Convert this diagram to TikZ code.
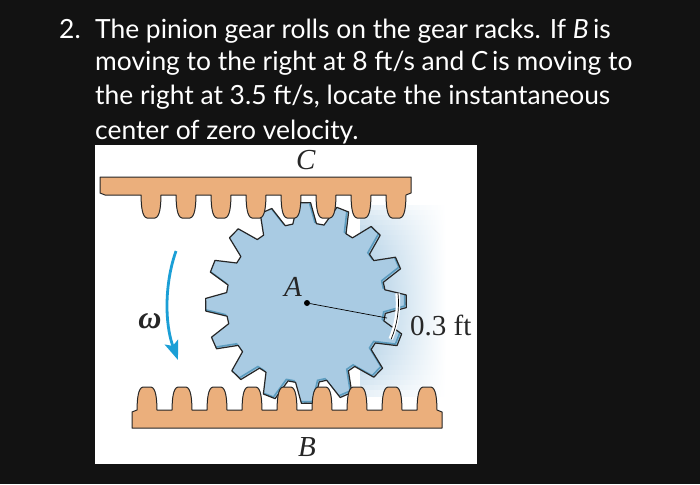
\documentclass[tikz,border=0pt]{standalone}
\usepackage{fontspec}
\setmainfont{Lato}
\newfontfamily\figfont{Liberation Serif}
\usetikzlibrary{positioning, calc, arrows.meta}
\definecolor{pagebg}{HTML}{121212}
\definecolor{gearblue}{HTML}{A9CBE3}
\definecolor{gearedge}{HTML}{5C9CBF}
\definecolor{rackfill}{HTML}{EBAF7C}
\definecolor{omegablue}{HTML}{1B9FD6}
\newcommand{\gearpath}{(-98.5:80) foreach \a in {-90,-67.5,...,247.5} {
    -- (\a-8.5:80) -- (\a-3.6:100.5) -- (\a+3.6:100.5) -- (\a+8.5:80)
} -- cycle}
\tikzset{
    question/.style={text=white, anchor=base west, font=\fontsize{26.4}{32}\selectfont, inner sep=0pt},
    figlabel/.style={font=\figfont\fontsize{29}{32}\selectfont, text=black!85, inner sep=0pt},
    rack/.style={draw=black!85, line width=1pt, fill=rackfill, line join=round}
}
\begin{document}
\begin{tikzpicture}[x=1pt, y=-1pt]
            \path[use as bounding box, fill=pagebg] (0,0) rectangle (700,484);
            \fill[white] (95,145) rectangle (477,464);

            % question text
            \node[question] (num) at (59,39) {2.};
            \node[question] (l1) at (95,39) {The pinion gear rolls on the gear racks. If \textit{B}\,is};
            \node[question] (l2) at (95,71) {moving to the right at 8 ft/s and \textit{C}\,is moving to};
            \node[question] (l3) at (95,105) {the right at 3.5 ft/s, locate the instantaneous};
            \node[question] (l4) at (95,139) {center of zero velocity.};

            % motion blur behind the gear
            \foreach \y in {205,210,...,390} {
                \pgfmathsetmacro{\k}{100*sqrt(sin((\y-200)/195*180))}
                \pgfmathsetmacro{\m}{\k*0.85}
                \shade[left color=gearblue!\k!white, middle color=gearblue!\m!white, right color=white]
                (360,\y) rectangle (446,\y+6);
            }

            % gear
            \begin{scope}[shift={(306,303)}, rotate=1]
                \fill[gearblue] \gearpath;
                \begin{scope}
                    \clip \gearpath;
                    \draw[gearedge, line width=1.6pt, shift={(-1.6,-1.6)}] \gearpath;
                \end{scope}
                \draw[draw=black!85, line width=1.2pt, line join=round] \gearpath;
                \draw[white, line width=4.4pt] (-5:92) arc (-5:24:92);
                \draw[black, line width=0.7pt] (-5:92.5) arc (-5:24:92.5);
            \end{scope}

            % racks
            \draw[rack] (100,177) -- (411,177) -- (411,193) -- (406,195)
            foreach \x in {396,361,...,117} {
                -- (\x+10,195) .. controls (\x+9.8,206) and (\x+9,217) .. (\x+4,218)
                -- (\x-4,218) .. controls (\x-9,217) and (\x-9.8,206) .. (\x-10,195)
            } -- (105,195) -- (100,193) -- cycle;
            \draw[rack] (132,428) -- (442,428) -- (442,412) -- (437,410)
            foreach \x in {427,392,...,147} {
                -- (\x+10,410) .. controls (\x+9.8,399) and (\x+9,388) .. (\x+4,387)
                -- (\x-4,387) .. controls (\x-9,388) and (\x-9.8,399) .. (\x-10,410)
            } -- (137,410) -- (132,412) -- cycle;

            % center and radius
            \node[circle, fill=black, inner sep=0pt, minimum size=6pt] (A) at (307,303) {};
            \coordinate (rim) at (387,318);
            \draw[black, line width=0.7pt] (A) -- (rim);

            % angular velocity
            \coordinate (wtop) at (176,251);
            \coordinate (wend) at (178,360);
            \draw[omegablue, line width=2.8pt, -{Stealth[length=19pt, width=14pt, inset=4pt]}]
            (wtop) .. controls (164,285) and (165,325) .. (wend);

            % labels
            \node[figlabel] (labC) at (306,160) {\textit{C}};
            \node[figlabel] (labB) at (307,447) {\textit{B}};
            \node[figlabel] (labA) at (293,287) {\textit{A}};
            \node[figlabel, anchor=west] (labr) at (410,325) {0.3 ft};
            \node[figlabel, font=\figfont\fontsize{32}{32}\selectfont] (labw) at (150,321) {\bfseries\itshape ω};
        \end{tikzpicture}
\end{document}
